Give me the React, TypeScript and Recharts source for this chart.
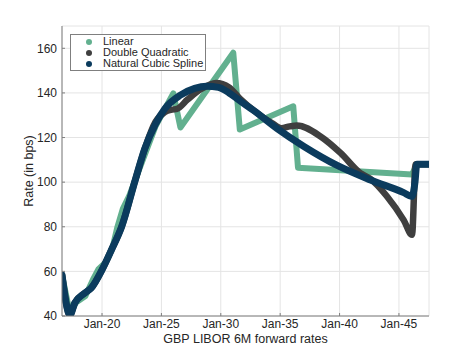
import { LineChart, Line, XAxis, YAxis, CartesianGrid, Legend } from 'recharts';

const GREEN = '#62b08f';
const GRAY = '#3f3f3f';
const NAVY = '#0b3b5d';
const AXIS = '#7f7f7f';
const GRID = '#e4e4e4';
const TEXT = '#262626';
const FONT = '"Liberation Sans", Arial, Helvetica, sans-serif';

const X_DOMAIN = [2016.63, 2047.53];
const X_TICKS = [2020, 2025, 2030, 2035, 2040, 2045];
const Y_TICKS = [40, 60, 80, 100, 120, 140, 160];

const linearX = [2016.63, 2017.3, 2017.8, 2018.6, 2019.3, 2019.7, 2020.3, 2020.9, 2021.3, 2021.75, 2022.3, 2024.5, 2026.0, 2026.6, 2031.05, 2031.6, 2036.1, 2036.5, 2046.1, 2046.5, 2047.53];
const linearY = [58.4, 41, 46, 49, 57, 61, 64, 71, 80, 88, 94, 125, 139.8, 124.5, 158, 123.6, 134, 106.5, 103.4, 108, 108];

const quadX = [2016.63, 2017.3, 2017.7, 2018.55, 2019.1, 2020.0, 2020.8, 2021.65, 2022.8, 2023.6, 2024.5, 2025.3, 2025.9, 2026.3, 2027.2, 2028.3, 2029.6, 2030.7, 2031.6, 2033.05, 2034.3, 2035.1, 2035.8, 2036.4, 2038.4, 2040.1, 2041.75, 2042.6, 2044.0, 2045.4, 2046.1, 2046.4, 2047.53];
const quadY = [58.4, 40.5, 45.8, 50.3, 52.6, 60.7, 69.7, 80, 101, 115, 127, 131.5, 132.5, 132.8, 137, 141.6, 144.5, 142.5, 137.5, 131, 126.5, 124.2, 125, 125.4, 120.5, 113, 104, 101.5, 93.6, 83, 76.4, 108, 108];

const splineX = [2016.63, 2017.3, 2017.7, 2018.55, 2019.1, 2020.0, 2020.8, 2021.65, 2022.8, 2023.6, 2024.5, 2025.3, 2026.6, 2027.8, 2028.8, 2029.8, 2030.7, 2031.6, 2032.8, 2034.75, 2037.0, 2039.8, 2042.6, 2045.4, 2046.1, 2046.35, 2046.5, 2047.53];
const splineY = [58.4, 40.5, 45.8, 50.3, 52.6, 60.7, 69.7, 80, 101, 115, 126, 133, 139, 142, 143, 142.5, 140, 136.5, 132, 124, 116, 107.5, 101, 95.3, 93.6, 100, 108, 108];

const zip = (xs: number[], ys: number[]) => xs.map((x, i) => ({ x, y: ys[i] }));

const SERIES = [
  { name: 'Linear', color: GREEN, width: 6, data: zip(linearX, linearY), type: 'linear' as const },
  { name: 'Double Quadratic', color: GRAY, width: 6.5, data: zip(quadX, quadY), type: 'monotone' as const },
  { name: 'Natural Cubic Spline', color: NAVY, width: 7, data: zip(splineX, splineY), type: 'monotone' as const },
];

const tickStyle = { fill: TEXT, fontSize: 12, fontFamily: FONT };

function LegendBox() {
  return (
    <div
      style={{
        border: `1px solid ${AXIS}`,
        background: '#fff',
        width: 136,
        boxSizing: 'border-box',
        padding: '1px 0',
        fontFamily: FONT,
        fontSize: 11,
        color: TEXT,
        whiteSpace: 'nowrap',
      }}
    >
      {SERIES.map((s) => (
        <div key={s.name} style={{ display: 'flex', alignItems: 'center', height: 11, lineHeight: '11px' }}>
          <span
            style={{
              display: 'inline-block',
              width: 6,
              height: 6,
              borderRadius: 3,
              background: s.color,
              marginLeft: 15,
              marginRight: 11,
              flex: 'none',
            }}
          />
          {s.name}
        </div>
      ))}
    </div>
  );
}

export default function App() {
  return (
    <LineChart width={458} height={340} margin={{ top: 18, right: 37, left: 0, bottom: 0 }}>
      <CartesianGrid stroke={GRID} strokeWidth={1} />
      <XAxis
        dataKey="x"
        type="number"
        domain={X_DOMAIN}
        ticks={X_TICKS}
        allowDataOverflow
        tickFormatter={(v: number) => `Jan-${String(v).slice(2)}`}
        tick={tickStyle}
        stroke={AXIS}
        tickSize={-3}
        tickMargin={6.5}
        height={32}
        label={{
          value: 'GBP LIBOR 6M forward rates',
          position: 'insideBottom',
          offset: 5,
          style: { fill: TEXT, fontSize: 12.5, fontFamily: FONT },
        }}
      />
      <XAxis
        xAxisId="top"
        orientation="top"
        dataKey="x"
        type="number"
        domain={X_DOMAIN}
        ticks={X_TICKS}
        allowDataOverflow
        tick={false}
        stroke={AXIS}
        tickSize={-3}
        height={0}
      />
      <YAxis
        type="number"
        domain={[40, 170]}
        ticks={Y_TICKS}
        allowDataOverflow
        tick={tickStyle}
        stroke={AXIS}
        tickSize={-3}
        tickMargin={8}
        width={54}
        label={{
          value: 'Rate (in bps)',
          angle: -90,
          position: 'insideLeft',
          offset: 21,
          style: { fill: TEXT, fontSize: 12.5, fontFamily: FONT, textAnchor: 'middle' },
        }}
      />
      <YAxis
        yAxisId="right"
        orientation="right"
        type="number"
        domain={[40, 170]}
        ticks={Y_TICKS}
        allowDataOverflow
        tick={false}
        stroke={AXIS}
        tickSize={-3}
        width={0}
      />
      <Legend
        layout="vertical"
        align="center"
        verticalAlign="middle"
        content={() => <LegendBox />}
        wrapperStyle={{ left: 62, top: 26, width: 'auto' }}
      />
      {SERIES.map((s) => (
        <Line
          key={s.name}
          data={s.data}
          dataKey="y"
          name={s.name}
          type={s.type}
          stroke={s.color}
          strokeWidth={s.width}
          strokeLinejoin="round"
          strokeLinecap="round"
          dot={false}
          activeDot={false}
          isAnimationActive={false}
        />
      ))}
    </LineChart>
  );
}
